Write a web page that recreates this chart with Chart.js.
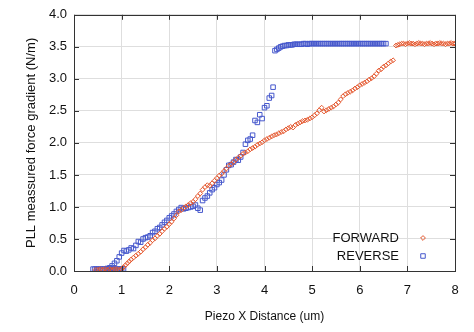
<!DOCTYPE html>
<html>
<head>
<meta charset="utf-8">
<script src="https://cdn.jsdelivr.net/npm/chart.js@4/dist/chart.umd.min.js"></script>
<style>
  html, body { margin: 0; padding: 0; background: #fff; }
  #wrap { width: 474px; height: 332px; }
</style>
</head>
<body>
<div id="wrap"><canvas id="chart-scatter" width="474" height="332"></canvas></div>
<script>
// values
var forwardX = [0.45, 0.50, 0.55, 0.60, 0.65, 0.70, 0.75, 0.80, 0.85, 0.90, 0.95, 1.00,
    1.04, 1.08, 1.12, 1.16, 1.20, 1.25, 1.30, 1.35, 1.40, 1.45, 1.50, 1.55, 1.60, 1.65, 1.70, 1.75,
    1.80, 1.85, 1.90, 1.95, 2.00, 2.05, 2.10, 2.15, 2.20, 2.25, 2.30, 2.35, 2.40, 2.45, 2.50, 2.55,
    2.60, 2.65, 2.70, 2.75, 2.80, 2.85, 2.90, 2.95, 3.00, 3.05, 3.10, 3.15, 3.20, 3.25, 3.30, 3.35,
    3.40, 3.45, 3.50, 3.55, 3.60, 3.65, 3.70, 3.75, 3.80, 3.85, 3.90, 3.95, 4.00, 4.05, 4.10, 4.15,
    4.20, 4.25, 4.30, 4.35, 4.40, 4.45, 4.50, 4.55, 4.60, 4.65, 4.70, 4.75, 4.80, 4.85, 4.90, 4.95,
    5.00, 5.05, 5.10, 5.15, 5.20, 5.25, 5.30, 5.35, 5.40, 5.45, 5.50, 5.55, 5.60, 5.65, 5.70, 5.75,
    5.80, 5.85, 5.90, 5.95, 6.00, 6.05, 6.10, 6.15, 6.20, 6.25, 6.30, 6.35, 6.40, 6.45, 6.50, 6.55,
    6.60, 6.65, 6.70,
    6.76, 6.80, 6.84, 6.88, 6.92, 6.96, 7.00, 7.04, 7.08, 7.12, 7.16, 7.20, 7.24, 7.28, 7.32, 7.36,
    7.40, 7.44, 7.48, 7.52, 7.56, 7.60, 7.64, 7.68, 7.72, 7.76, 7.80, 7.84, 7.88, 7.92, 7.96, 8.00];
var forwardY = [0.02, 0.02, 0.03, 0.02, 0.03, 0.02, 0.03, 0.02, 0.03, 0.03, 0.02, 0.03,
    0.06, 0.09, 0.12, 0.15, 0.18, 0.21, 0.24, 0.27, 0.30, 0.34, 0.37, 0.41, 0.44, 0.48, 0.51, 0.55,
    0.58, 0.62, 0.66, 0.69, 0.73, 0.77, 0.82, 0.87, 0.93, 0.95, 0.98, 1.01, 1.03, 1.06, 1.08, 1.12,
    1.17, 1.21, 1.27, 1.31, 1.34, 1.33, 1.37, 1.41, 1.45, 1.49, 1.52, 1.56, 1.60, 1.64, 1.67, 1.70,
    1.74, 1.77, 1.80, 1.83, 1.85, 1.87, 1.90, 1.92, 1.94, 1.97, 1.99, 2.01, 2.04, 2.06, 2.08, 2.10,
    2.12, 2.13, 2.15, 2.17, 2.18, 2.21, 2.23, 2.25, 2.24, 2.28, 2.30, 2.32, 2.34, 2.35, 2.36, 2.38,
    2.40, 2.43, 2.46, 2.51, 2.55, 2.49, 2.51, 2.53, 2.55, 2.57, 2.60, 2.63, 2.68, 2.73, 2.76, 2.78,
    2.80, 2.82, 2.85, 2.87, 2.90, 2.92, 2.94, 2.96, 2.99, 3.01, 3.04, 3.08, 3.13, 3.15, 3.19, 3.21,
    3.24, 3.27, 3.29,
    3.52, 3.53, 3.54, 3.55, 3.55, 3.54, 3.55, 3.56, 3.55, 3.55, 3.54, 3.55, 3.56, 3.55, 3.55, 3.54,
    3.55, 3.55, 3.56, 3.55, 3.54, 3.55, 3.55, 3.56, 3.55, 3.55, 3.54, 3.55, 3.55, 3.56, 3.55, 3.55];

var reverseX = [0.40, 0.44, 0.48, 0.52, 0.56, 0.60, 0.64, 0.68, 0.72, 0.76, 0.80, 0.84, 0.88, 0.92, 0.96, 1.00, 1.04,
    0.70, 0.75, 0.80, 0.85, 0.90, 0.95, 1.00, 1.05, 1.10, 1.15, 1.20, 1.25, 1.30, 1.35, 1.40, 1.45,
    1.50, 1.55, 1.60, 1.65, 1.70, 1.75, 1.80, 1.85, 1.90, 1.95, 2.00, 2.05, 2.10, 2.15, 2.20, 2.25,
    2.30, 2.35, 2.40, 2.45, 2.50, 2.55, 2.60, 2.65, 2.70, 2.75, 2.80, 2.85, 2.90, 2.95, 3.00, 3.05,
    3.10, 3.15, 3.20, 3.25, 3.30, 3.35, 3.40, 3.45, 3.50, 3.55, 3.60, 3.65, 3.70, 3.75, 3.80, 3.85,
    3.90, 3.95, 4.00, 4.05, 4.10, 4.15, 4.18,
    4.22, 4.26, 4.30, 4.34, 4.38, 4.42, 4.46, 4.50, 4.54, 4.58, 4.62, 4.66, 4.70, 4.74, 4.78, 4.82,
    4.86, 4.90, 4.94, 4.98, 5.02, 5.06, 5.10, 5.14, 5.18, 5.22, 5.26, 5.30, 5.34, 5.38, 5.42, 5.46,
    5.50, 5.54, 5.58, 5.62, 5.66, 5.70, 5.74, 5.78, 5.82, 5.86, 5.90, 5.94, 5.98, 6.02, 6.06, 6.10,
    6.14, 6.18, 6.22, 6.26, 6.30, 6.34, 6.38, 6.42, 6.46, 6.50, 6.55];
var reverseY = [0.03, 0.03, 0.03, 0.03, 0.03, 0.03, 0.03, 0.03, 0.03, 0.03, 0.03, 0.03, 0.03, 0.03, 0.03, 0.03, 0.03,
    0.04, 0.05, 0.08, 0.12, 0.16, 0.22, 0.28, 0.32, 0.31, 0.33, 0.36, 0.35, 0.40, 0.46, 0.45, 0.50,
    0.52, 0.53, 0.55, 0.60, 0.62, 0.66, 0.68, 0.72, 0.76, 0.79, 0.83, 0.86, 0.89, 0.93, 0.96, 0.99,
    0.97, 0.98, 0.99, 1.00, 1.01, 1.03, 0.98, 0.95, 1.10, 1.14, 1.17, 1.22, 1.27, 1.30, 1.35, 1.38,
    1.42, 1.50, 1.58, 1.65, 1.66, 1.70, 1.74, 1.73, 1.78, 1.85, 1.98, 2.04, 2.06, 2.12, 2.35, 2.32,
    2.44, 2.38, 2.55, 2.58, 2.70, 2.74, 2.87,
    3.44, 3.46, 3.48, 3.50, 3.51, 3.52, 3.52, 3.53, 3.53, 3.53, 3.54, 3.54, 3.54, 3.54, 3.54, 3.55,
    3.55, 3.54, 3.55, 3.55, 3.55, 3.55, 3.55, 3.55, 3.55, 3.55, 3.55, 3.55, 3.55, 3.55, 3.55, 3.55,
    3.55, 3.55, 3.55, 3.55, 3.55, 3.55, 3.55, 3.55, 3.55, 3.55, 3.55, 3.55, 3.55, 3.55, 3.55, 3.55,
    3.55, 3.55, 3.55, 3.55, 3.55, 3.55, 3.55, 3.55, 3.55, 3.55, 3.55];

var xTicks = [0, 1, 2, 3, 4, 5, 6, 7, 8];
var yTicks = [0.0, 0.5, 1.0, 1.5, 2.0, 2.5, 3.0, 3.5, 4.0];
var seriesNames = ['FORWARD', 'REVERSE'];

var fwdColor = '#e4572e';
var revColor = '#4658cc';
var FONT = 'Liberation Sans, Arial, Helvetica, sans-serif';

function toPoints(xs, ys) {
    var pts = [];
    for (var i = 0; i < xs.length; i++) pts.push({ x: xs[i], y: ys[i] });
    return pts;
}

// frame, inward ticks and the in-plot legend
var framePlugin = {
    id: 'frame',
    afterDraw: function (chart) {
        var c = chart.ctx, a = chart.chartArea;
        var xs = chart.scales.x, ys = chart.scales.y;
        c.save();
        c.strokeStyle = '#333';
        c.lineWidth = 1;
        c.strokeRect(Math.round(a.left) + 0.5, Math.round(a.top) + 0.5,
            Math.round(a.right - a.left), Math.round(a.bottom - a.top));
        c.beginPath();
        xTicks.forEach(function (t) {
            var px = Math.round(xs.getPixelForValue(t)) + 0.5;
            c.moveTo(px, a.bottom); c.lineTo(px, a.bottom - 5);
            c.moveTo(px, a.top); c.lineTo(px, a.top + 5);
        });
        yTicks.forEach(function (t) {
            var py = Math.round(ys.getPixelForValue(t)) + 0.5;
            c.moveTo(a.left, py); c.lineTo(a.left + 5, py);
            c.moveTo(a.right, py); c.lineTo(a.right - 5, py);
        });
        c.stroke();

        // legend
        c.font = '13px ' + FONT;
        c.textAlign = 'right';
        c.textBaseline = 'middle';
        var lx = a.right - 56, mx = a.right - 32;
        var rows = [a.bottom - 33, a.bottom - 15];
        chart.data.datasets.forEach(function (ds, i) {
            c.fillStyle = '#111';
            c.fillText(seriesNames[i], lx, rows[i]);
            c.fillStyle = 'rgba(0,0,0,0)';
            c.strokeStyle = ds.borderColor;
            c.lineWidth = 1;
            Chart.helpers.drawPoint(c, {
                pointStyle: ds.pointStyle, radius: ds.pointRadius,
                borderWidth: 1, rotation: 0
            }, mx, rows[i]);
        });
        c.restore();
    }
};

var ctx = document.getElementById('chart-scatter').getContext('2d');
var myScatter = new Chart(ctx, {
    type: 'scatter',
    data: {
        datasets: [{
            label: seriesNames[0],
            data: toPoints(forwardX, forwardY),
            pointStyle: 'rectRot',
            pointRadius: 2.4,
            borderColor: fwdColor,
            backgroundColor: 'rgba(0,0,0,0)',
            borderWidth: 1
        }, {
            label: seriesNames[1],
            data: toPoints(reverseX, reverseY),
            pointStyle: 'rect',
            pointRadius: 3.2,
            borderColor: revColor,
            backgroundColor: 'rgba(0,0,0,0)',
            borderWidth: 1
        }]
    },
    options: {
        responsive: false,
        maintainAspectRatio: false,
        animation: false,
        layout: { padding: { left: 0, right: 19, top: 14, bottom: 0 } },
        plugins: {
            legend: { display: false },
            tooltip: { enabled: false }
        },
        scales: {
            x: {
                type: 'linear',
                min: 0, max: 8,
                afterBuildTicks: function (s) { s.ticks = xTicks.map(function (v) { return { value: v }; }); },
                afterFit: function (s) { s.height = 61; },
                grid: { color: '#dedede', drawTicks: false },
                border: { display: false },
                ticks: { padding: 12, color: '#111', font: { family: FONT, size: 13 },
                    callback: function (v) { return String(v); } },
                title: { display: true, text: 'Piezo X Distance (um)', color: '#111',
                    font: { family: FONT, size: 12 }, padding: { top: 0, bottom: 8 } }
            },
            y: {
                type: 'linear',
                min: 0, max: 4,
                afterBuildTicks: function (s) { s.ticks = yTicks.map(function (v) { return { value: v }; }); },
                afterFit: function (s) { s.width = 74; },
                grid: { color: '#dedede', drawTicks: false },
                border: { display: false },
                ticks: { padding: 7, color: '#111', font: { family: FONT, size: 13 },
                    callback: function (v) { return v.toFixed(1); } },
                title: { display: true, text: 'PLL meassured force gradient (N/m)', color: '#111',
                    font: { family: FONT, size: 13 }, padding: { top: 24, bottom: 0 } }
            }
        }
    },
    plugins: [framePlugin]
});
</script>
</body>
</html>
